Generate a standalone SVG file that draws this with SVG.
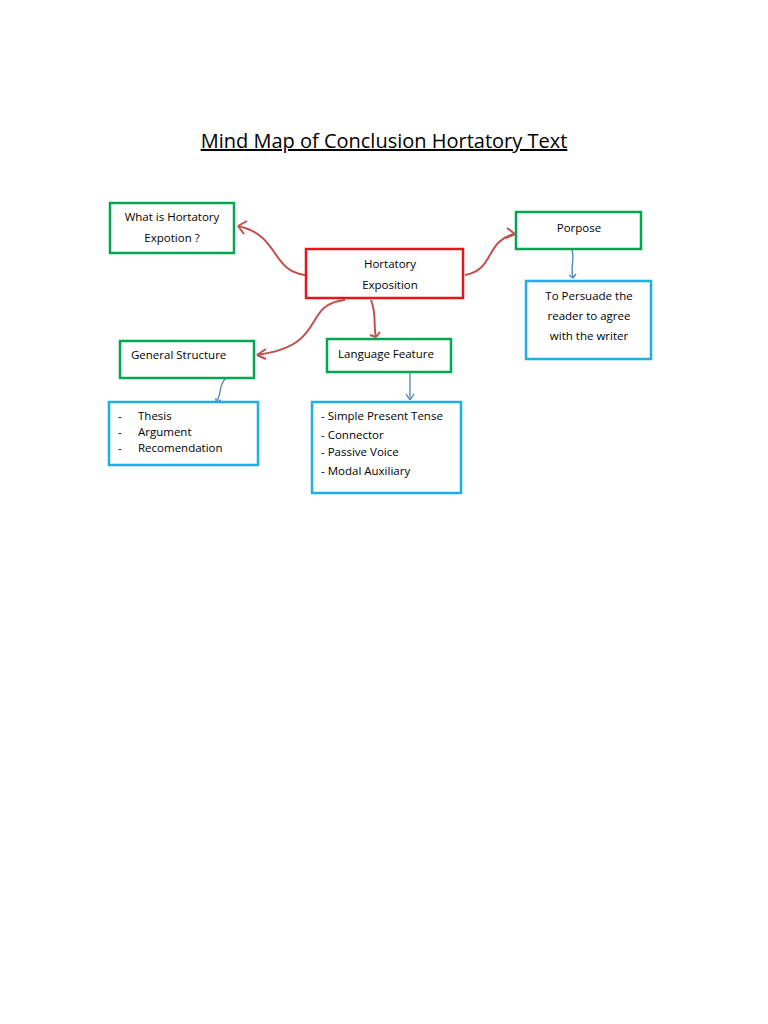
<svg xmlns="http://www.w3.org/2000/svg" width="768" height="1024" viewBox="0 0 768 1024">
<style>
text{font-family:"Open Sans","Liberation Sans",sans-serif;font-size:11.5px;fill:#000}
.g{fill:#fff;stroke:#00a650;stroke-width:2.5}
.r{fill:#fff;stroke:#e8141c;stroke-width:2.5}
.b{fill:#fff;stroke:#1ab0e8;stroke-width:2.5}
.rc{fill:none;stroke:#c0504d;stroke-width:2}
.bc{fill:none;stroke:#4f81bd;stroke-width:1.3}
</style>
<rect width="768" height="1024" fill="#fff"/>
<text x="384" y="148" text-anchor="middle" style="font-size:20px" text-decoration="underline">Mind Map of Conclusion Hortatory Text</text>
<g id="connectors">
<path class="rc" d="M305,275 C270,270 280,235 238,226"/><path class="rc" d="M238,226 l9,-5 M238,226 l6,8"/>
<path class="rc" d="M465,275 C495,270 485,240 515,234"/><path class="rc" d="M515,234 l-8,-6 M515,234 l-9,4"/>
<path class="rc" d="M345,300 C300,305 330,345 257,355"/><path class="rc" d="M257,355 l9,-6 M257,355 l9,4"/>
<path class="rc" d="M371,300 C377,315 373,325 376,337"/><path class="rc" d="M376,337 l-6,-2 M376,337 l4,-5"/>
<path class="bc" d="M572,250 C575,260 570,265 573,278"/><path class="bc" d="M573,278 l-4,-3 M573,278 l3,-4"/>
<path class="bc" d="M226,378 C218,385 222,395 216,403"/><path class="bc" d="M216,403 l5,-3 M216,403 l0,-5"/>
<path class="bc" d="M410,372 L410,400"/><path class="bc" d="M410,400 l-4,-6 M410,400 l4,-6"/>
</g>
<g id="n1"><rect class="g" x="110" y="203" width="124" height="50"/><text x="172" y="221" text-anchor="middle">What is Hortatory</text><text x="172" y="242" text-anchor="middle">Expotion ?</text></g>
<g id="n0"><rect class="r" x="306" y="249" width="157" height="49"/><text x="390" y="268" text-anchor="middle">Hortatory</text><text x="390" y="289" text-anchor="middle">Exposition</text></g>
<g id="n2"><rect class="g" x="516" y="212" width="125" height="37"/><text x="579" y="232" text-anchor="middle">Porpose</text></g>
<g id="n3"><rect class="b" x="526" y="281" width="125" height="78"/><text x="589" y="300" text-anchor="middle">To Persuade the</text><text x="589" y="320" text-anchor="middle">reader to agree</text><text x="589" y="340" text-anchor="middle">with the writer</text></g>
<g id="n4"><rect class="g" x="120" y="341" width="134" height="37"/><text x="131" y="359">General Structure</text></g>
<g id="n5"><rect class="g" x="327" y="339" width="124" height="33"/><text x="338" y="358">Language Feature</text></g>
<g id="n6"><rect class="b" x="109" y="402" width="149" height="63"/><text x="118" y="420">-</text><text x="138" y="420">Thesis</text><text x="118" y="436">-</text><text x="138" y="436">Argument</text><text x="118" y="452">-</text><text x="138" y="452">Recomendation</text></g>
<g id="n7"><rect class="b" x="312" y="402" width="149" height="91"/><text x="321" y="420">- Simple Present Tense</text><text x="321" y="439">- Connector</text><text x="321" y="456">- Passive Voice</text><text x="321" y="475">- Modal Auxiliary</text></g>
</svg>
